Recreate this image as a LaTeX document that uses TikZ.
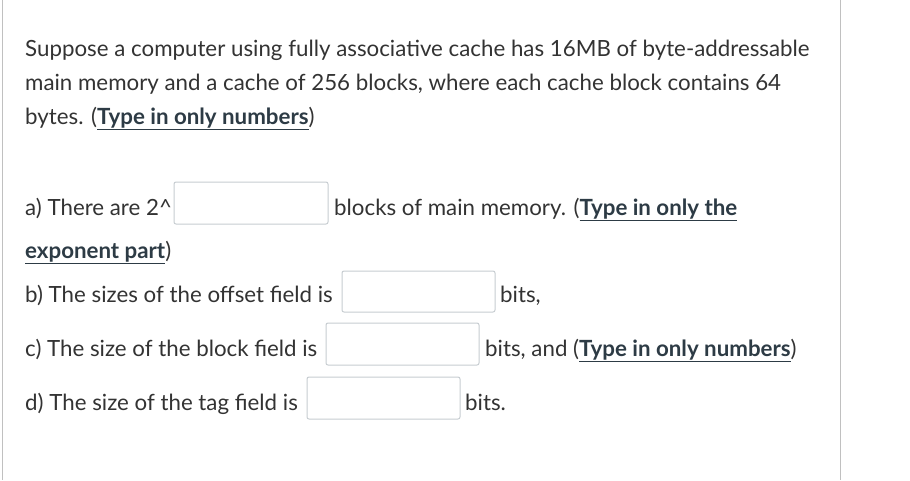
\documentclass[tikz,border=0pt]{standalone}
\usepackage{fontspec}
\setmainfont{Lato}
\definecolor{txt}{HTML}{333333}
\definecolor{lnk}{HTML}{2D3B45}
\definecolor{bx}{HTML}{C7CDD1}
\definecolor{frame}{HTML}{C0C0C0}
\newcommand{\lk}[1]{{\bfseries\color{lnk}\underline{#1}}}
\begin{document}
\begin{tikzpicture}[x=1pt,y=-1pt,
  t/.style={anchor=base west,inner sep=0pt,text=txt,font=\fontsize{22.3}{26}\selectfont},
  ans/.style={draw=bx,line width=1pt,rounded corners=2pt}]
\useasboundingbox (0,0) rectangle (910,480);
\fill[white] (0,0) rectangle (910,480);
\draw[frame,line width=1pt] (2.5,0) coordinate (l1) -- (2.5,480) coordinate (l2);
\draw[frame,line width=1pt] (840.5,0) coordinate (r1) -- (840.5,480) coordinate (r2);
\node[t] (p1) at (25,56) {Suppose a computer using fully associative cache has 16MB of byte-addressable};
\node[t] (p2) at (25,90) {main memory and a cache of 256 blocks, where each cache block contains 64};
\node[t] (p3) at (25,124) {bytes. (\lk{Type in only numbers})};
\node[t] (a1) at (25,215) {a) There are 2\^{}};
\draw[ans] (174,182) rectangle (328,224);
\node[t] (a2) at (334,215) {blocks of main memory. (\lk{Type in only the}};
\node[t] (a3) at (25,258) {\lk{exponent part})};
\node[t] (b1) at (25,302) {b) The sizes of the offset field is};
\draw[ans] (342,271) rectangle (495,312);
\node[t] (b2) at (500,302) {bits,};
\node[t] (c1) at (25,356) {c) The size of the block field is};
\draw[ans] (326,323) rectangle (479,365);
\node[t] (c2) at (485,356) {bits, and (\lk{Type in only numbers})};
\node[t] (d1) at (25,410) {d) The size of the tag field is};
\draw[ans] (307,377) rectangle (460,419);
\node[t] (d2) at (465,410) {bits.};
\end{tikzpicture}
\end{document}
